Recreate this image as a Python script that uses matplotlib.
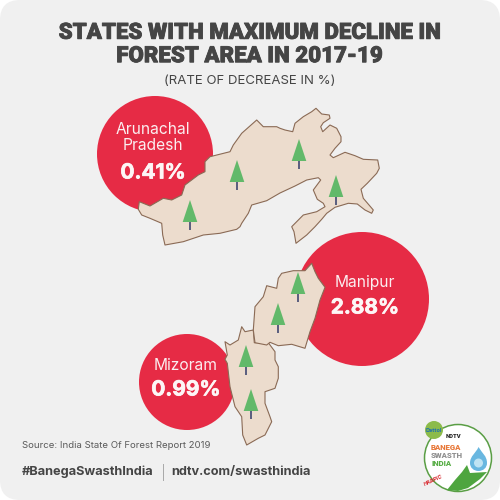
import matplotlib
matplotlib.use("Agg")
import matplotlib.pyplot as plt
import matplotlib.patheffects as pe
from matplotlib.patches import Circle, Polygon, FancyBboxPatch, Rectangle, PathPatch
from matplotlib.path import Path

# ---- data ----
states = ["Arunachal\nPradesh", "Manipur", "Mizoram"]
rates = ["0.41%", "2.88%", "0.99%"]
bubble_centres = [(155, 154), (362, 299), (187, 382)]
bubble_radii = [58, 67, 48]

arunachal = [(280,128.3),(285,130),(292.7,131.7),(295,123.3),(303.3,116.7),(311.7,111.7),(316,108.3),(321.7,114),
             (329.3,115),(330,118.3),(323.3,122.7),(320.7,126.7),(322.7,131.7),(330,125),(336.7,128.3),(341,136.7),
             (341,141.7),(335,148.3),(330,155),(333.3,157.7),(345,152.3),(355,155.7),(363.3,159.3),(377.7,160),
             (379.3,168.3),(376.7,173.3),(367.3,183.3),(361,189.3),(363.3,198.3),(373.3,210),(371.7,213.3),(365,210),
             (357.3,204),(348.3,203.3),(335,207.3),(326.7,213.3),(321.7,219.3),(315,226.7),(306.7,235),(296,243.3),
             (294,231.7),(291.7,226.7),(303.3,215),(316.7,211.7),(325,206.7),(323.3,203.3),(317.3,199.3),(313.3,190),
             (320.7,180),(318.3,177.7),(306.7,180),(295,186),(280,193),(266.7,200.7),(251.7,205),(248.3,213.3),
             (241.7,223.3),(240,226.7),(236.7,229.3),(220,233.3),(203.3,235),(183.3,241.7),(165,245),(162.7,235),
             (161.7,223.3),(150,218.3),(141.7,215),(138.3,209.3),(139.3,201.7),(150,206),(163.3,198.3),(171.7,200),
             (181.7,195),(185,185),(198.3,175),(205,171.7),(205,161.7),(210,156.7),(230,151.7),(233.3,145),
             (241.7,133.3),(256.7,120),(263.3,126.7),(276.7,126.7)]
manipur = [(281.7,273.3),(293.3,270.7),(305,270.7),(311.7,263.3),(315,271.7),(318.3,278.3),(325,287.3),(320,300),
           (315,318.3),(310,331.7),(305,348.3),(291.7,344.3),(278.3,345.7),(270,342.3),(266.7,345),(255,342.7),
           (253.3,330),(255,306.7),(263.3,296.7),(266.7,285.7),(276.7,288.3),(278.3,278.3)]
mizoram = [(225,341.7),(230,345),(238.3,340),(241.7,326.7),(245,331.7),(253.3,330),(254.3,342.7),(268.3,342.7),
           (275,351.7),(275,360),(278.3,366.7),(278.3,378.3),(275,388.3),(265,391.7),(265,403.3),(270,416.7),
           (271.7,421.7),(265,435),(258.3,438.3),(246.7,445),(242.7,435),(241.7,416.7),(235,406.7),(230,386.7),
           (227.3,363.3),(225,359.3),(227.3,355)]
trees = [(190,200),(237,160),(299,139),(336,175),(298,272),(278,303),(246,345),(251,389)]

title = "STATES WITH MAXIMUM DECLINE IN\nFOREST AREA IN 2017-19"
subtitle = "(RATE OF DECREASE IN %)"
source = "Source: India State Of Forest Report 2019"
hashtag = "#BanegaSwasthIndia"
site = "ndtv.com/swasthindia"

RED = "#e62b45"
LAND = "#ecdccd"
EDGE = "#8a6a55"
GREEN = "#62b96a"
DARK = "#454545"
SANS = ["Inter", "Roboto", "DejaVu Sans"]

def heavy(width, color):
    return [pe.withStroke(linewidth=width, foreground=color)]

fig = plt.figure(figsize=(5, 5), dpi=100, facecolor="white")
ax = fig.add_axes([0, 0, 1, 1])
ax.set_xlim(0, 500)
ax.set_ylim(500, 0)
ax.axis("off")

ax.add_patch(FancyBboxPatch((20, 20), 460, 460, boxstyle="round,pad=20,rounding_size=20",
                            fc="#f0f0f0", ec="none", zorder=0))

ax.text(249.5, 44.5, title, ha="center", va="center", fontsize=16.05, family="Roboto",
        weight="black", color=DARK, linespacing=1.08, path_effects=heavy(0.6, DARK))
ax.text(249.5, 80.5, subtitle, ha="center", va="center", fontsize=9.5, family=SANS, color=DARK)

for (cx, cy), r in zip(bubble_centres, bubble_radii):
    ax.add_patch(Circle((cx, cy), r, fc=RED, ec="none", zorder=1))

for shape in (mizoram, manipur, arunachal):
    ax.add_patch(Polygon(shape, closed=True, fc=LAND, ec=EDGE, lw=0.8, joinstyle="round", zorder=2))

for x, y in trees:
    ax.add_patch(Rectangle((x - 1, y + 18), 2, 12, fc="#5c6080", ec="none", zorder=3))
    ax.add_patch(Polygon([(x, y), (x + 7.3, y + 22), (x - 7.3, y + 22)], closed=True, fc=GREEN, ec="none", zorder=4))

name_pos = [(153, 137.5), (365, 283), (186, 365)]
rate_pos = [(153, 172.5), (365, 307.5), (186, 389.5)]
for name, rate, np_, rp in zip(states, rates, name_pos, rate_pos):
    ax.text(*np_, name, ha="center", va="center", fontsize=11.2, family=SANS, color="#fbeef0",
            linespacing=1.15, zorder=5)
    ax.text(*rp, rate, ha="center", va="center", fontsize=15, family=SANS, weight="bold",
            color="#fdf6f6", zorder=5, path_effects=heavy(0.5, "#fdf6f6"))

ax.text(22, 446, source, ha="left", va="center", fontsize=6.9, family=SANS, color="#5a5a5a")
ax.text(22, 472, hashtag, ha="left", va="center", fontsize=9.2, family=SANS, weight="bold", color=DARK)
ax.plot([162.5, 162.5], [464, 480], color="#a8a8a8", lw=0.7)
ax.text(171, 472, site, ha="left", va="center", fontsize=9.2, family=SANS, weight="bold", color=DARK)

# campaign badge
ax.add_patch(Circle((458, 458), 33.5, fc="white", ec="#5a9e45", lw=1.1, zorder=2))
ax.add_patch(Circle((434, 430), 9, fc="#8cbb4a", ec="none", zorder=3))
ax.text(434, 430, "Dettol", ha="center", va="center", fontsize=4.0, weight="bold", family=SANS, color="#1d6fb0", zorder=4)
ax.text(453, 437, "NDTV", ha="center", va="center", fontsize=4.2, weight="black", family="Roboto", color="#222222", zorder=4)
ax.text(431, 447, "BANEGA", ha="left", va="center", fontsize=5.6, weight="black", family="Roboto", color="#e8793a", zorder=4)
ax.text(431, 455, "SWASTH", ha="left", va="center", fontsize=5.6, weight="black", family="Roboto", color="#909090", zorder=4)
ax.text(431, 463, "INDIA", ha="left", va="center", fontsize=5.6, weight="black", family="Roboto", color="#57ad45", zorder=4)
drop = Path([(478.5, 447), (482, 453), (487, 456), (487, 463),
             (487, 468), (483, 471), (478.5, 471),
             (474, 471), (470, 468), (470, 463),
             (470, 456), (476, 453), (478.5, 447)],
            [1, 4, 4, 4, 4, 4, 4, 4, 4, 4, 4, 4, 4])
ax.add_patch(PathPatch(drop, fc="#69b7e0", ec="none", zorder=4))
ax.add_patch(Circle((478.5, 463), 4.5, fc="#bfe3f3", ec="none", zorder=5))
ax.add_patch(Polygon([(447, 490), (455, 480), (462, 472), (467, 465), (470, 473), (487, 472), (480, 479),
                      (468, 488), (458, 491)], closed=True, fc="#4ea53f", ec="none", zorder=4))
ax.text(433, 480, "HARPIC", ha="center", va="center", fontsize=3.8, weight="bold", style="italic",
        family=SANS, color="#d8232a", rotation=25, zorder=5)

fig.savefig("out.png", dpi=100)
